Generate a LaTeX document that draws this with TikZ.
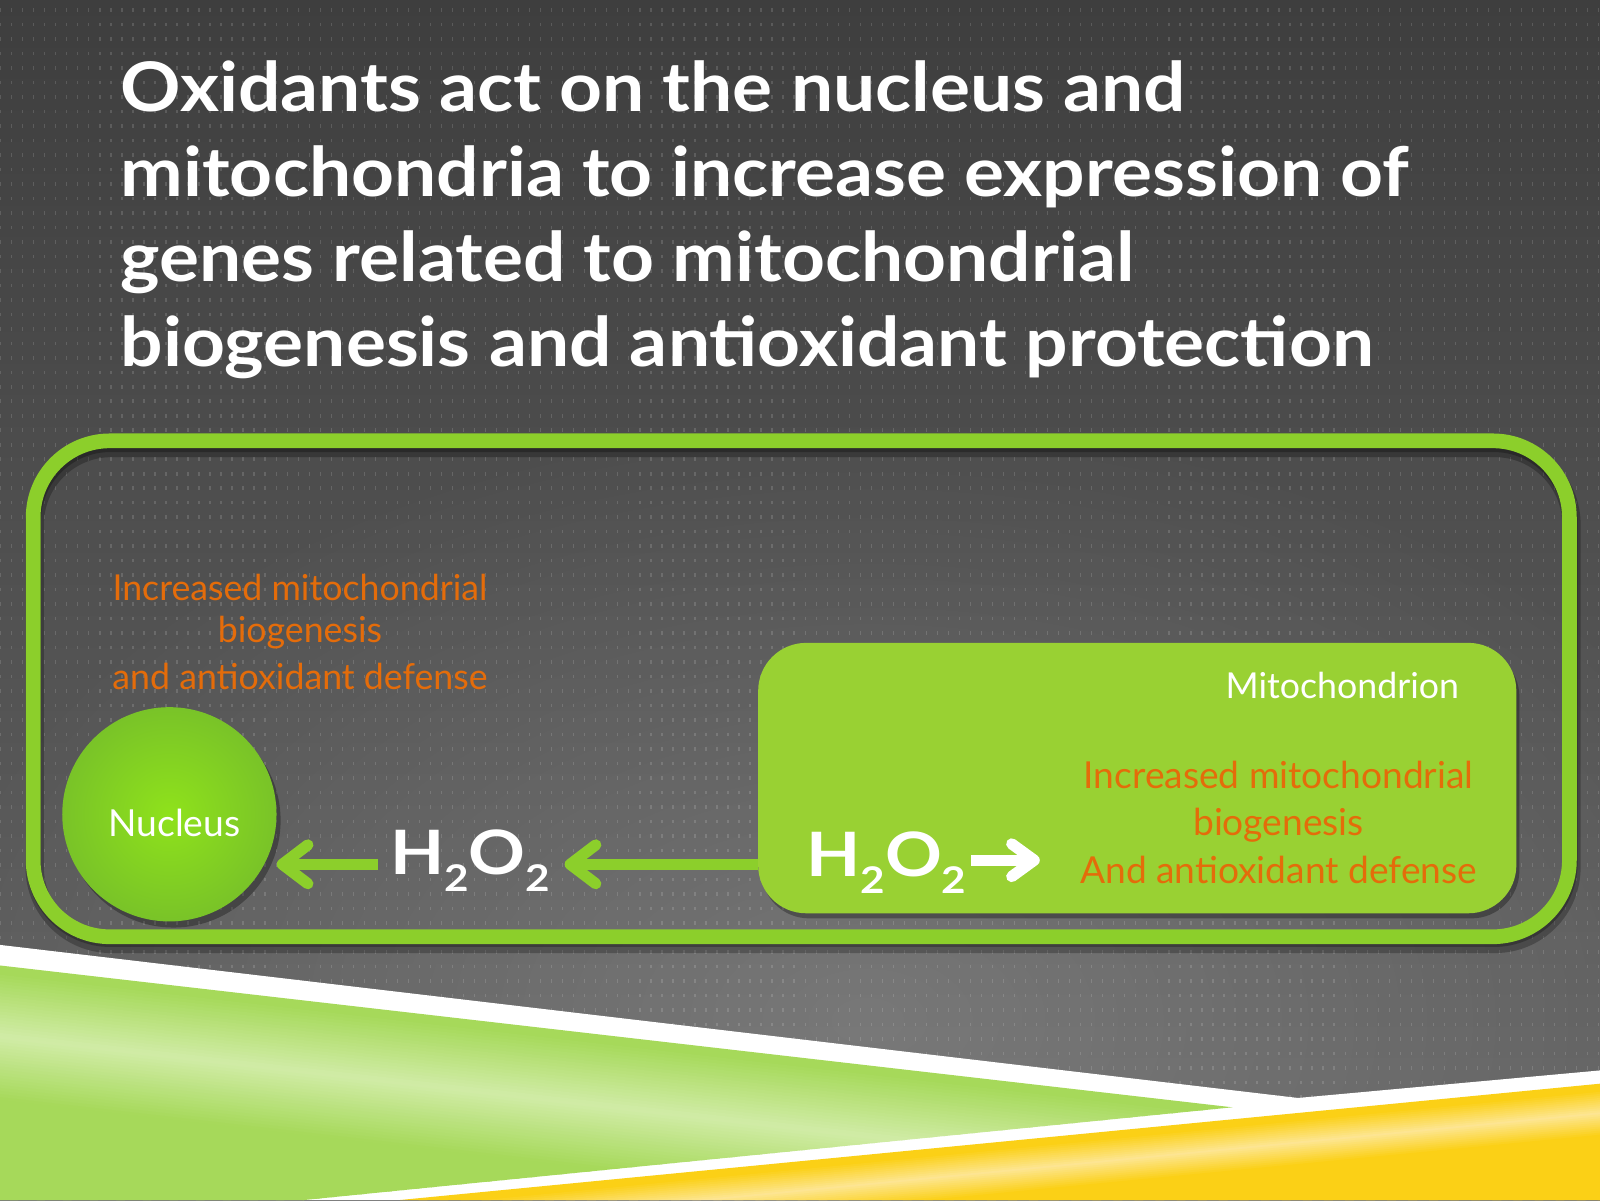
\documentclass[tikz,border=0pt]{standalone}
\usepackage{fontspec}
\setmainfont{Lato}
\usetikzlibrary{arrows.meta,patterns,fadings,calc}
\definecolor{bgtop}{HTML}{3E3E3E}
\definecolor{bgbot}{HTML}{646464}
\definecolor{framegreen}{HTML}{8CCF2B}
\definecolor{mitogreen}{HTML}{99D133}
\definecolor{nucin}{HTML}{8FE21B}
\definecolor{nucout}{HTML}{79C328}
\definecolor{orangetxt}{HTML}{E46C0A}
\definecolor{greenA}{HTML}{A6D95A}
\definecolor{greenB}{HTML}{D8EFB4}
\definecolor{yellowA}{HTML}{FBD016}
\definecolor{yellowB}{HTML}{FDE8A0}
\tikzfading[name=glowfade, inner color=transparent!0, outer color=transparent!100]
\pgfdeclarepatternformonly{slidedots}{\pgfqpoint{-1pt}{-1pt}}{\pgfqpoint{3pt}{5pt}}{\pgfqpoint{10.8pt}{14.2pt}}{%
  \pgfpathrectangle{\pgfqpoint{0pt}{0pt}}{\pgfqpoint{1.3pt}{3.5pt}}\pgfusepath{fill}}
\newcommand{\subtwo}{\raisebox{-17pt}{\fontsize{36}{36}\selectfont 2}}
\newcommand{\hho}{\scalebox{1.15}[1]{H\subtwo O\subtwo}}
\tikzset{
  titletext/.style={anchor=base west, inner sep=0pt, text=white,
    font=\fontsize{67}{83.3}\selectfont\bfseries},
  orangetext/.style={align=center, inner sep=0pt, text=orangetxt},
  whitelabel/.style={inner sep=0pt, text=white, font=\fontsize{35}{40}\selectfont},
  formula/.style={anchor=base west, inner sep=0pt, text=white,
    font=\fontsize{60}{60}\selectfont\bfseries},
  garrow/.style={draw=framegreen, line width=11pt,
    -{Straight Barb[round, length=25pt, width=38pt]}},
  warrow/.style={draw=white, line width=11pt,
    -{Straight Barb[round, length=22pt, width=32pt]}},
}
\begin{document}
\begin{tikzpicture}[x=1pt, y=-1pt]
\useasboundingbox (0,0) rectangle (1568,1176);
% background
\shade[top color=bgtop, bottom color=bgbot] (0,0) rectangle (1568,1176);
\begin{scope}
  \clip (0,0) rectangle (1568,1176);
  \fill[white, fill opacity=0.16, path fading=glowfade] (850,1000) ellipse (950 and 600);
\end{scope}
\fill[pattern=slidedots, pattern color=white, fill opacity=0.14] (0,0) rectangle (1568,1176);
% bottom bands
\fill[white] (0,926) -- (1272,1076) -- (1568,1049) -- (1568,1176) -- (0,1176) -- cycle;
\begin{scope}
  \clip (0,945) -- (1209,1085) -- (298,1176) -- (0,1176) -- cycle;
  \foreach \o in {0,3,...,240}{
    \pgfmathsetmacro\t{max(0,1-abs(\o-68)/62)*85}
    \fill[greenB!\t!greenA] (-10,945+\o) -- (1600,1130.3+\o) -- (1600,1134+\o) -- (-10,948.7+\o) -- cycle;
  }
\end{scope}
\begin{scope}
  \clip (392,1176) -- (1568,1062) -- (1568,1176) -- cycle;
  \foreach \o in {0,2,...,130}{
    \pgfmathsetmacro\t{max(0,1-abs(\o-28)/22)*90}
    \fill[yellowB!\t!yellowA] (300,1184.9+\o) -- (1600,1058.9+\o) -- (1600,1061.5+\o) -- (300,1187.5+\o) -- cycle;
  }
\end{scope}
% title
\node[titletext] (title) at (118,359) {\scalebox{1.095}[1]{\begin{tabular}[b]{@{}l@{}}Oxidants act on the nucleus and\\
mitochondria to increase expression of\\
genes related to mitochondrial\\
biogenesis and antioxidant protection\end{tabular}}};
% outer frame with shadow
\draw[black, opacity=0.25, line width=18pt, rounded corners=75pt] (34,439) rectangle (1540,925);
\draw[black, opacity=0.25, line width=14pt, rounded corners=75pt] (33,436) rectangle (1539,921);
\draw[framegreen, line width=14.4pt, rounded corners=75pt] (32.5,432) rectangle (1538,918);
% left orange text
\node[orangetext, font=\fontsize{35}{46}\selectfont] (leftinfo) at (294,619)
  {Increased mitochondrial\\[-5pt]biogenesis\\and antioxidant defense};
% nucleus
\fill[black, opacity=0.3] (170,804) circle (105);
\node[circle, minimum size=210pt, inner sep=0pt, inner color=nucin, outer color=nucout,
  text=white, font=\fontsize{36.5}{40}\selectfont] (nucleus) at (166,798)
  {\raisebox{-22pt}[0pt][0pt]{\hspace{10pt}Nucleus}};
% mitochondrion box
\fill[black, opacity=0.3, rounded corners=47pt] (746,636) rectangle (1489,900);
\node[rectangle, rounded corners=47pt, fill=mitogreen, minimum width=743pt, minimum height=265pt,
  inner sep=0pt] (mito) at (1114.5,762.5) {};
\node[whitelabel, anchor=base east] (mitolabel) at (1430,685) {Mitochondrion};
\node[orangetext, font=\fontsize{36.4}{46.5}\selectfont] (mitoinfo) at (1253,806)
  {Increased mitochondrial\\biogenesis\\And antioxidant defense};
% formulas
\node[formula] (h2oL) at (382,857) {\hho};
\node[formula] (h2oR) at (790,859) {\hho};
% arrows
\coordinate (ay) at (0,847);
\coordinate (wy) at (0,843);
\coordinate (wtip) at (1019,843);
\draw[garrow, shorten <=12pt] (h2oL.west |- ay) -- (nucleus.east |- ay);
\draw[garrow, shorten >=14pt] (mito.west |- ay) -- (h2oL.east |- ay);
\draw[warrow, shorten <=4pt] (h2oR.east |- wy) -- (wtip);
\end{tikzpicture}
\end{document}
